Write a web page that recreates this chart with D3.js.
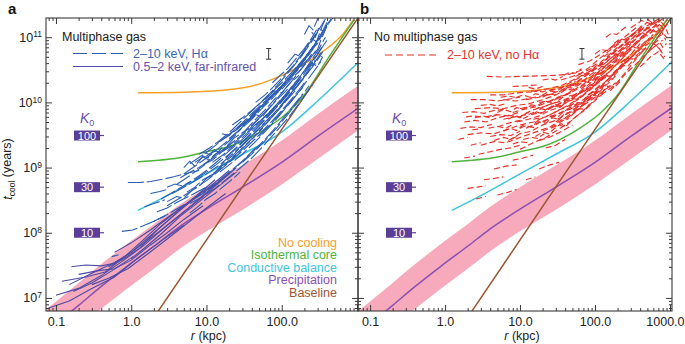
<!DOCTYPE html>
<html>
<head>
<meta charset="utf-8">
<script src="https://d3js.org/d3.v7.min.js"></script>
<style>
  html, body { margin: 0; padding: 0; background: #fff; }
  svg { display: block; font-family: "Liberation Sans", Arial, Helvetica, sans-serif; }
</style>
</head>
<body>
<svg id="chart" width="685" height="344"></svg>
<script>
// ---- 数据 (r: kpc, t: years) ----
const xTickLabelsA = [0.1, 1, 10, 100];
const xTickLabelsB = [0.1, 1, 10, 100, 1000];
const yTickLabels = [1e7, 1e8, 1e9, 1e10, 1e11];

const modelNames = ['No cooling', 'Isothermal core', 'Conductive balance', 'Precipitation', 'Baseline'];

const noCoolingR = [1.23, 5, 18, 46, 100, 174, 350, 665, 900];
const noCoolingT = [1.4e10, 1.43e10, 1.55e10, 1.86e10, 2.6e10, 3.55e10, 6e10, 1.15e11, 1.85e11];

const isoCoreR = [1.23, 5, 10, 20, 60, 120, 195, 400, 900];
const isoCoreT = [1.23e9, 1.45e9, 1.75e9, 2.1e9, 3.9e9, 7e9, 1.25e10, 4.5e10, 1.8e11];

const conductR = [1.23, 3, 10, 30, 100, 300, 1100];
const conductT = [2.2e8, 3.7e8, 8e8, 1.6e9, 3.5e9, 1.05e10, 4.4e10];

const baselineR = [2.0, 40, 1100];
const baselineT = [5e6, 8.2e8, 2.2e11];

const precipR = [0.06, 0.1, 0.2, 0.4, 0.86, 2, 4, 10, 31, 100, 300, 1100];
const precipT = [2.5e6, 4e6, 7.7e6, 1.5e7, 3e7, 6.2e7, 1.15e8, 2.3e8, 5.1e8, 1.2e9, 3e9, 8.5e9];
const precipUpper = [5.5e6, 8.8e6, 1.7e7, 3.3e7, 6.6e7, 1.35e8, 2.5e8, 5e8, 1.1e9, 2.6e9, 6.6e9, 1.9e10];
const precipLower = [1.1e6, 1.8e6, 3.5e6, 6.8e6, 1.36e7, 2.8e7, 5.2e7, 1.05e8, 2.3e8, 5.5e8, 1.35e9, 3.9e9];

const k0Labels = ['100', '30', '10'];
const k0Times = [3.1e9, 5e8, 1e8];

const errBarR = 67;
const errBarT = [4.6e10, 6.7e10];

// a: 2–10 keV, Hα (虚线)
const haProfiles = [
  [[2.5,3.3e8],[4,4.5e8],[6,6e8],[8,7.5e8],[10,9e8],[14,1.25e9],[20,1.8e9],[30,2.7e9],[45,4.2e9],[70,7e9],[100,1.1e10],[140,1.7e10]],
  [[3,2.6e8],[5,3.7e8],[7,4.8e8],[10,6.3e8],[14,8.5e8],[20,1.2e9],[30,1.8e9],[45,2.8e9],[70,4.8e9],[100,7.5e9],[150,1.3e10],[200,2e10]],
  [[4,5.5e8],[6,7.5e8],[9,1.05e9],[13,1.5e9],[18,2e9],[28,3e9],[40,4.5e9],[60,7e9],[90,1.15e10],[120,1.6e10]],
  [[5,8e8],[7,1.05e9],[10,1.4e9],[14,1.9e9],[20,2.7e9],[30,4.2e9],[45,7e9],[65,1.1e10],[100,1.8e10],[150,3e10],[220,5.5e10],[300,9e10]],
  [[6,1.15e9],[8.5,1.5e9],[12,2e9],[17,2.8e9],[25,4e9],[36,6e9],[52,9e9],[75,1.3e10]],
  [[8,1.6e9],[11,2e9],[15,2.6e9],[22,3.8e9],[32,5.8e9],[48,9e9],[70,1.35e10],[100,2e10],[140,3e10],[200,4.8e10],[270,7.5e10],[350,1.2e11]],
  [[4,2.2e8],[6,3e8],[9,4e8],[13,5.5e8],[19,7.8e8],[28,1.15e9],[40,1.7e9],[60,2.7e9],[90,4.6e9],[130,7.8e9],[190,1.35e10]],
  [[6,2.8e8],[9,3.6e8],[13,4.8e8],[19,6.8e8],[27,9.5e8],[40,1.4e9],[58,2.2e9],[85,3.6e9],[125,6e9],[180,1.05e10],[260,1.9e10]],
  [[3.5,4e8],[5,5e8],[7,6.2e8],[10,8e8],[15,1.1e9],[22,1.6e9],[32,2.4e9],[48,3.8e9],[70,6e9]],
  [[7,6.5e8],[10,8.5e8],[14,1.15e9],[20,1.6e9],[29,2.4e9],[42,3.6e9],[60,5.5e9],[90,9e9],[130,1.5e10],[180,2.4e10]],
  [[12,1.2e9],[17,1.6e9],[24,2.3e9],[35,3.4e9],[50,5e9],[72,7.5e9],[105,1.2e10],[150,2e10],[220,3.5e10],[300,5.5e10],[400,9e10]],
  [[15,8.5e8],[21,1.15e9],[30,1.6e9],[43,2.4e9],[62,3.7e9],[90,6e9],[130,1e10],[190,1.7e10]],
  [[20,2.8e9],[28,3.8e9],[40,5.5e9],[57,8.5e9],[80,1.25e10],[115,2e10],[165,3.3e10],[240,5.8e10],[330,1e11],[420,1.6e11]],
  [[25,3.8e9],[35,5.5e9],[50,8e9],[70,1.15e10],[100,1.8e10],[140,2.8e10],[200,4.5e10]],
  [[30,1.2e9],[42,1.7e9],[60,2.6e9],[85,4e9],[120,6.5e9],[170,1.1e10],[230,1.8e10]],
  [[40,6.5e9],[55,9e9],[75,1.25e10],[105,1.9e10],[150,3e10],[210,5e10],[280,8e10],[360,1.3e11],[450,1.9e11]],
  [[50,3e9],[70,4.5e9],[95,6.8e9],[130,1e10],[180,1.6e10],[250,2.7e10],[330,4.2e10]],
  [[80,1.3e10],[110,1.9e10],[150,2.8e10],[190,3.8e10],[240,5e10],[300,6.5e10],[330,9e10],[380,1.3e11]],
  [[100,1.6e10],[130,2.2e10],[170,3e10],[220,4.2e10],[280,6e10],[340,5e10]],
  [[150,3.3e10],[200,4.5e10],[250,6.5e10],[300,8e10],[340,1.15e11],[400,1.5e11],[480,2e11]],
  [[2,1.5e8],[3,1.9e8],[4.5,2.5e8],[6.5,3.2e8],[9.5,4.3e8],[14,6e8],[20,8.5e8],[30,1.25e9],[45,2e9]],
  [[0.9,5.9e8],[1.3,5.9e8],[1.8,6.1e8],[2.6,6.6e8],[3.8,7.3e8],[5.5,8.2e8],[8,9e8]],
  [[0.75,1.05e8],[1.05,1.1e8],[1.5,1.3e8],[2,1.5e8],[2.8,1.8e8]],
  [[0.55,4.3e7],[0.68,4.6e7]],
  [[5,1e9],[6,1.25e9],[7,1.05e9],[9,1.5e9],[11,1.4e9]],
  [[9,1.7e9],[11,1.6e9],[13,1.9e9]],
  [[10,1.5e9],[13,1.8e9],[16,1.7e9],[20,2.2e9],[26,2.8e9]],
  [[60,1.1e10],[80,1.5e10],[100,1.4e10],[130,2e10],[170,2.6e10]],
  [[200,3e10],[250,4e10],[300,3.6e10],[350,5e10]],
  [[35,5e9],[45,6.5e9],[55,6e9],[70,8.5e9]],
  [[1.5,2.5e8],[2,2.8e8],[2.8,3.2e8]],
  [[1.8,4e8],[2.4,4.3e8],[3,4.6e8]],
  [[3,3e8],[4,3.6e8],[5,3.4e8],[6.5,4.5e8],[8,5.2e8],[10,6.8e8],[13,8.5e8],[17,1.2e9],[22,1.5e9],[30,2.2e9],[40,3e9]],
  [[4.5,7e8],[6,8.5e8],[8,1e9],[10,1.2e9],[13,1.6e9],[17,1.9e9],[23,2.8e9],[32,3.6e9],[45,5.5e9],[62,8e9],[85,1.2e10]],
  [[5.5,4.2e8],[7,5e8],[9,6.5e8],[12,7.8e8],[16,1.05e9],[22,1.4e9],[30,2e9],[42,2.9e9],[58,4.4e9],[80,6.5e9],[110,1e10],[150,1.5e10]],
  [[9,1.1e9],[12,1.3e9],[16,1.75e9],[21,2.1e9],[28,2.9e9],[38,4e9],[52,6e9],[70,8.5e9],[95,1.3e10],[130,2e10],[180,3.2e10],[250,5.5e10]],
  [[11,7e8],[15,9.5e8],[20,1.25e9],[27,1.7e9],[36,2.4e9],[50,3.5e9],[68,5.3e9],[95,8.5e9],[130,1.35e10],[180,2.1e10],[250,3.5e10],[340,6e10]],
  [[14,2.4e9],[19,3e9],[25,3.8e9],[33,5e9],[45,6.8e9],[60,9.5e9],[80,1.35e10],[110,2e10],[150,3e10],[200,4.5e10],[260,6.5e10]],
  [[18,1.4e9],[24,1.9e9],[32,2.6e9],[43,3.6e9],[58,5.2e9],[78,7.5e9],[105,1.1e10],[140,1.6e10],[190,2.6e10],[260,4.2e10],[340,7e10]],
  [[22,4.5e9],[30,5.8e9],[40,7.5e9],[55,1.05e10],[75,1.5e10],[100,2.2e10],[135,3.3e10],[180,5e10],[240,8e10],[300,1.2e11]],
  [[28,2e9],[37,2.8e9],[50,3.9e9],[67,5.6e9],[90,8e9],[120,1.2e10],[160,1.8e10],[210,2.8e10],[280,4.5e10]],
  [[45,1e10],[60,1.3e10],[80,1.8e10],[105,2.5e10],[140,3.6e10],[185,5.5e10],[240,8.5e10],[310,1.3e11],[380,1.9e11]],
  [[60,6e9],[80,8.5e9],[105,1.2e10],[140,1.75e10],[185,2.7e10],[240,4.2e10],[310,6.5e10],[380,1e11]],
  [[120,4e10],[150,5.5e10],[180,5e10],[210,7e10],[250,9.5e10],[290,8.5e10],[330,1.3e11],[370,1.8e11]],
  [[200,1.1e11],[230,1.5e11],[260,1.3e11],[300,1.9e11],[330,2.1e11]],
  [[2.2,2.1e8],[3,2.4e8],[4,2.9e8],[5.5,3.5e8],[7.5,4.2e8],[10,5e8]],
  [[7,1.2e9],[9,1.45e9],[11,1.3e9],[14,1.7e9],[18,2.3e9],[24,3.1e9],[32,4.6e9],[42,6.5e9]],
  [[16,3.3e9],[20,3.1e9],[24,3.9e9],[30,4.5e9],[38,5.6e9],[48,7.5e9]],
  [[35,3.5e9],[45,4.6e9],[58,5.8e9],[75,7.3e9],[95,1e10],[120,1.4e10],[150,2e10]],
  [[75,2e10],[95,2.6e10],[120,3.3e10],[150,4.5e10],[190,6.2e10],[240,9e10],[290,1.3e11]],
  [[100,9e9],[130,1.3e10],[170,1.9e10],[220,2.8e10],[280,4e10],[350,6e10]],
  [[3,5e8],[3.8,5.6e8],[4.8,5.2e8],[6,6e8]],
  [[6,2e8],[8,2.6e8],[10,3.3e8],[13,4e8],[17,5.2e8],[22,6.6e8],[28,8.5e8]],
  [[250,1.2e11],[280,1e11],[310,1.4e11],[350,1.25e11],[400,1.7e11]]
];

// a: 0.5–2 keV, far-infrared (实线)
const firProfiles = [
  [[0.1,1.1e7],[0.2,1.4e7],[0.4,2.2e7],[0.8,3.8e7],[1.5,6.5e7],[3,1.3e8],[6,2.5e8],[12,5e8],[20,8e8]],
  [[0.15,1.6e7],[0.3,2.4e7],[0.6,3.5e7],[1,5e7],[2,9e7],[4,1.7e8],[8,3.2e8],[15,6e8],[25,1e9]],
  [[0.16,3e7],[0.25,3.2e7],[0.4,3.1e7],[0.6,3.4e7],[1,5e7],[2,1e8],[4,2e8],[7,3.4e8]],
  [[0.2,2.3e7],[0.35,2.6e7],[0.6,2.8e7],[1,3.8e7],[1.8,6.5e7],[3,1e8],[5,1.6e8],[9,2.6e8]],
  [[0.12,1.8e7],[0.25,2.1e7],[0.45,2.5e7],[0.8,4.2e7],[1.4,7.5e7],[2.5,1.4e8],[5,2.6e8],[9,4.4e8]],
  [[0.3,1.6e7],[0.5,2e7],[0.9,2.8e7],[1.6,4.6e7],[3,8e7],[6,1.5e8],[10,2.4e8],[18,4e8]],
  [[0.08,7e6],[0.15,9e6],[0.3,1.4e7],[0.6,2.1e7],[1.2,4e7],[2.5,7.5e7],[5,1.3e8]],
  [[0.6,5e7],[1,7e7],[1.8,1.1e8],[3,1.7e8],[6,3e8],[12,5.5e8],[20,9e8]],
  [[1,4e7],[1.6,6.2e7],[2.6,1e8],[4.5,1.8e8],[8,3e8],[14,5e8],[25,8.5e8]],
  [[0.5,3e7],[0.8,4e7],[1.3,5.8e7],[2.2,1.1e8],[4,2e8],[7,3.5e8],[13,6.5e8]],
  [[0.17,1.25e7],[0.3,1.7e7],[0.55,2.6e7],[1.06,4.3e7]]
];

// b: 2–10 keV, no Hα (红色虚线)
const noHaProfiles = [
  [[3.6,2.5e10],[6,2.45e10],[10,2.5e10],[18,2.55e10],[30,2.6e10],[46,2.7e10],[70,3.2e10]],
  [[2.2,1.1e10],[3.5,1.1e10],[5,1.05e10],[8,1.15e10],[10,1.2e10]],
  [[1.8,5e9],[2.5,5.3e9],[3.5,5e9],[5,5.8e9],[7,6.3e9],[10,6e9],[14,7.5e9],[20,8.5e9],[30,1e10],[45,1.4e10],[70,1.9e10],[100,2.6e10],[150,4e10]],
  [[2,3.2e9],[3,3.4e9],[4.5,3.3e9],[7,3.9e9],[10,4.5e9],[15,5e9],[22,6e9],[35,7.8e9],[50,1e10],[80,1.5e10],[120,2.2e10],[200,4e10],[300,6.5e10]],
  [[2.5,8e9],[4,8.3e9],[6,8e9],[9,9e9],[13,9.5e9],[20,1.1e10],[30,1.3e10],[45,1.7e10],[70,2.4e10],[110,3.5e10],[170,5.5e10],[260,8.5e10]],
  [[3,2.2e9],[4.5,2.5e9],[6.5,2.4e9],[10,2.9e9],[15,3.4e9],[25,4.2e9],[40,5.8e9],[60,8e9],[90,1.2e10],[140,2e10]],
  [[4,1.3e10],[6,1.3e10],[9,1.4e10],[14,1.45e10],[22,1.6e10],[35,1.8e10],[55,2.3e10],[85,3e10],[130,4.5e10],[200,7e10]],
  [[1.6,4e9],[2.2,4.2e9],[3,4.1e9],[4.2,4.6e9]],
  [[1.7,7e9],[2.4,7.2e9],[3.3,6.8e9],[4.5,7.5e9],[6,7.8e9]],
  [[5,4.2e9],[7,4.8e9],[10,5.3e9],[14,6.5e9],[20,7e9],[30,9e9],[45,1.15e10],[70,1.6e10],[110,2.5e10],[170,4e10],[260,6.5e10],[400,1.1e11],[600,1.6e11]],
  [[7,2.6e9],[10,3.3e9],[14,3.6e9],[20,4.5e9],[30,5.3e9],[45,7e9],[70,1e10],[110,1.6e10],[170,2.6e10],[260,4.5e10],[400,8e10]],
  [[8,7e9],[11,7.8e9],[16,8.5e9],[22,9.8e9],[32,1.15e10],[50,1.45e10],[75,1.9e10],[110,2.8e10],[170,4.5e10],[260,7.5e10],[400,1.25e11]],
  [[10,1.9e9],[15,2.4e9],[22,2.9e9],[32,3.8e9],[48,5.2e9],[70,7.5e9],[100,1.1e10],[150,1.8e10]],
  [[12,1.1e10],[18,1.2e10],[26,1.35e10],[38,1.6e10],[55,2e10],[80,2.7e10],[120,3.8e10],[180,6e10],[280,9.5e10],[420,1.5e11]],
  [[15,5.5e9],[22,6e9],[32,7.5e9],[46,9e9],[65,1.2e10],[95,1.7e10],[140,2.6e10],[210,4.2e10],[320,7e10],[500,1.2e11],[750,1.8e11]],
  [[20,3.6e9],[30,4.5e9],[45,6e9],[65,8.5e9],[95,1.3e10],[140,2.1e10],[200,3.2e10],[300,5.5e10]],
  [[25,1.5e10],[36,1.7e10],[50,2.1e10],[75,2.7e10],[110,3.6e10],[160,5.2e10],[240,8e10],[350,1.2e11],[500,1.7e11]],
  [[30,9e9],[45,1.1e10],[65,1.4e10],[95,2e10],[140,3e10],[200,4.6e10],[300,7e10],[450,1.1e11],[650,1.5e11]],
  [[40,6.5e9],[60,8e9],[85,1.1e10],[120,1.6e10],[180,2.6e10],[270,4.2e10],[400,7e10],[600,1.1e11]],
  [[50,1.8e10],[75,2.2e10],[110,2.9e10],[160,4.2e10],[240,6.5e10],[360,1e11],[540,1.5e11],[800,1.9e11]],
  [[60,3.8e10],[85,4.3e10],[120,5.5e10],[180,7.5e10],[260,1.05e11],[380,1.5e11]],
  [[80,1.3e10],[120,1.8e10],[170,2.6e10],[250,4e10],[370,6.2e10],[550,9.5e10],[800,1.3e11]],
  [[100,2.2e10],[150,3.2e10],[220,4.8e10],[330,7.5e10],[500,1.1e11],[700,1.35e11],[900,1e11]],
  [[150,6.5e10],[220,8.5e10],[320,1.1e11],[450,1.4e11],[600,1.7e11],[750,1.3e11],[880,9e10]],
  [[200,3.2e10],[300,4.8e10],[420,6.8e10],[560,8.5e10],[700,7e10],[850,5e10]],
  [[300,1.4e11],[420,1.8e11],[550,1.6e11],[700,1.9e11],[850,1.5e11],[950,1.1e11]],
  [[120,1.3e10],[180,1.8e10],[260,2.8e10],[380,4.2e10],[560,6.5e10],[800,9e10]],
  [[6,1.1e10],[9,1.05e10],[13,1.15e10],[19,1.25e10],[28,1.35e10]],
  [[3.5,6e9],[5,6.5e9],[7,6.2e9],[9.5,7e9]],
  [[2.8,1.6e9],[4,1.75e9],[5.5,1.9e9],[7.5,2e9],[10,2.2e9]],
  [[9,5e9],[13,5.5e9],[18,6.2e9],[25,7.5e9],[35,8.5e9]],
  [[18,2.6e9],[26,3e9],[36,3.6e9],[50,4.5e9]],
  [[35,2.2e10],[50,2.5e10],[70,2.9e10],[100,3.5e10]],
  [[45,1.25e10],[60,1.35e10],[80,1.6e10],[110,2e10],[150,2.6e10]],
  [[8,1.75e10],[12,1.8e10],[17,1.85e10]],
  [[2,4.8e8],[2.7,5e8],[3.5,5.3e8]],
  [[3.3,6.5e8],[4.5,6.8e8],[6,7.2e8]],
  [[2.6,3.3e8],[3.5,3.6e8]],
  [[5,3.8e8],[7,4.2e8],[9,4.6e8]],
  [[4.5,9.5e8],[6.5,1.05e9],[9,1.1e9]],
  [[8,1.3e9],[11,1.4e9],[15,1.55e9]],
  [[12,6.5e8],[16,7.2e8]],
  [[18,9.5e8],[25,1.1e9],[33,1.2e9]],
  [[2.2,2.2e9],[3,2.4e9]],
  [[1.5,2.7e9],[2,2.9e9]],
  [[1.8,1.4e9],[2.5,1.5e9]],
  [[22,2e9],[30,2.2e9],[40,2.7e9]],
  [[10,8e9],[14,8.8e9],[19,8.2e9],[26,9.5e9],[36,1.05e10],[50,1.25e10],[70,1.5e10]],
  [[12,4e9],[17,4.8e9],[24,5.5e9],[34,6.8e9],[48,8e9],[68,1e10],[95,1.35e10]],
  [[14,1.5e10],[20,1.45e10],[28,1.6e10],[40,1.75e10],[56,1.95e10]],
  [[25,6e9],[35,7e9],[48,8.5e9],[66,1.05e10],[90,1.4e10],[125,2e10]],
  [[4,3e9],[5.5,3.2e9],[7.5,3.1e9],[10,3.6e9]],
  [[6,5.5e9],[8.5,6e9],[12,6.5e9]],
  [[18,1e10],[25,1.05e10],[35,1.25e10],[48,1.4e10]],
  [[60,2.6e10],[80,3.3e10],[110,4.5e10],[150,6e10],[210,8e10]],
  [[90,2.5e10],[130,3.8e10],[190,5.5e10],[280,8.5e10],[420,1.3e11]],
  [[250,8e10],[350,1.2e11],[480,1.4e11],[650,1.2e11],[800,1.4e11]],
  [[400,3.5e10],[550,5e10],[700,6e10],[850,4.5e10]],
  [[70,9e9],[100,1.2e10],[140,1.6e10],[190,2e10]],
  [[5,7e9],[6,7.8e9],[7.5,7.2e9],[9,8.3e9],[11,7.8e9],[14,9.2e9],[17,8.8e9],[21,1.05e10],[26,1e10],[32,1.2e10],[40,1.3e10],[50,1.55e10]],
  [[6,3.6e9],[7.5,4e9],[9,3.7e9],[11,4.5e9],[14,4.2e9],[17,5.2e9],[21,5e9],[26,6.2e9],[32,6e9],[40,7.5e9],[50,8.2e9],[62,1e10]],
  [[7,5.5e9],[8.5,6.3e9],[10,5.8e9],[12.5,7e9],[15,6.6e9],[19,8e9],[23,7.6e9],[28,9.2e9],[35,9e9],[43,1.1e10],[53,1.2e10],[65,1.45e10],[80,1.7e10]],
  [[9,1.2e10],[11,1.3e10],[13.5,1.2e10],[16,1.35e10],[20,1.3e10],[25,1.5e10],[30,1.45e10],[37,1.7e10],[45,1.8e10],[55,2.1e10]],
  [[10,4e9],[12,4.4e9],[15,4.1e9],[18,5e9],[22,4.8e9],[27,5.8e9],[33,5.5e9],[40,6.8e9],[50,7.2e9],[62,9e9],[75,1.05e10]],
  [[13,6.5e9],[16,7.2e9],[19,6.8e9],[23,8e9],[28,8.8e9],[34,8.4e9],[41,1e10],[50,1.1e10],[60,1.35e10],[73,1.5e10],[90,1.85e10],[110,2.2e10]],
  [[16,3e9],[20,3.5e9],[24,3.3e9],[29,4e9],[35,4.7e9],[42,4.4e9],[50,5.5e9],[60,6.5e9],[72,7.5e9],[85,9.5e9]],
  [[20,1.2e10],[24,1.35e10],[29,1.3e10],[35,1.5e10],[42,1.7e10],[50,1.65e10],[60,1.95e10],[72,2.2e10],[85,2.6e10],[100,3e10]],
  [[24,8e9],[29,9e9],[35,8.6e9],[42,1e10],[50,1.15e10],[60,1.1e10],[72,1.35e10],[85,1.6e10],[100,1.85e10],[120,2.3e10],[145,2.8e10]],
  [[30,5e9],[36,5.8e9],[43,5.5e9],[52,6.8e9],[62,8e9],[75,7.8e9],[90,9.5e9],[108,1.15e10],[130,1.4e10]],
  [[35,1.4e10],[42,1.6e10],[50,1.55e10],[60,1.85e10],[72,2.1e10],[86,2e10],[103,2.5e10],[123,2.9e10],[148,3.5e10],[178,4.3e10]],
  [[45,8.5e9],[54,1e10],[65,9.8e9],[78,1.2e10],[93,1.45e10],[112,1.4e10],[134,1.75e10],[160,2.1e10],[190,2.6e10]],
  [[55,2.5e10],[66,2.8e10],[79,2.7e10],[95,3.2e10],[114,3.7e10],[137,3.5e10],[164,4.3e10],[197,5e10],[236,6e10]],
  [[65,1.6e10],[78,1.9e10],[94,1.8e10],[113,2.2e10],[135,2.6e10],[162,2.5e10],[195,3.1e10],[234,3.7e10],[280,4.5e10]],
  [[75,1.1e10],[90,1.3e10],[108,1.25e10],[130,1.5e10],[156,1.8e10],[187,1.75e10],[225,2.2e10]],
  [[90,3.5e10],[108,4e10],[130,3.8e10],[156,4.6e10],[187,5.4e10],[225,5.2e10],[270,6.3e10],[324,7.5e10],[390,9e10]],
  [[110,2.2e10],[132,2.6e10],[158,2.5e10],[190,3.1e10],[228,3.7e10],[274,3.6e10],[329,4.5e10],[395,5.5e10],[474,6.8e10]],
  [[130,5e10],[156,5.8e10],[187,5.5e10],[225,6.6e10],[270,7.8e10],[324,7.5e10],[389,9.2e10],[467,1.1e11],[560,1.3e11]],
  [[160,1.5e10],[190,1.9e10],[230,2.5e10],[275,3.2e10],[330,4.2e10],[400,5.5e10],[480,7e10]],
  [[180,8e10],[216,9.5e10],[259,9e10],[311,1.1e11],[373,1.3e11],[448,1.25e11],[537,1.5e11],[644,1.8e11]],
  [[220,4e10],[264,4.8e10],[317,4.6e10],[380,5.6e10],[456,6.7e10],[547,6.4e10],[656,7.5e10],[780,6e10]],
  [[260,6e10],[312,7e10],[374,6.8e10],[449,8.2e10],[539,9.8e10],[647,9.5e10],[776,1.1e11]],
  [[350,1e11],[420,1.2e11],[500,1.05e11],[600,1.3e11],[720,1.55e11],[860,1.4e11]],
  [[500,1.9e11],[600,1.6e11],[700,1.75e11],[820,1.3e11],[920,1.6e11]],
  [[600,8e10],[700,9e10],[800,7e10],[900,8e10]],
  [[2.5,5.8e9],[3.2,6.2e9],[4,5.8e9],[5,6.6e9]],
  [[3,9e9],[4,9.3e9],[5,8.8e9],[6.5,9.6e9]],
  [[3.8,4e9],[5,4.3e9],[6.5,4e9],[8,4.6e9]],
  [[4.5,2.6e9],[6,2.9e9],[7.5,2.7e9],[9.5,3.1e9]],
  [[1.9,6e9],[2.4,6.2e9],[3,6e9]],
  [[5.5,1.2e10],[7,1.25e10],[8.5,1.2e10]],
  [[2.3,3.8e9],[2.9,3.9e9]],
  [[11,2.7e9],[14,2.9e9],[17,2.8e9],[21,3.3e9]],
  [[26,4e9],[32,4.5e9],[38,4.3e9],[46,5e9]],
  [[38,2.6e10],[46,2.9e10],[55,2.8e10],[66,3.3e10]],
  [[140,1e11],[165,1.15e11],[195,1.1e11],[230,1.3e11],[270,1.5e11]],
  [[20,2.2e10],[25,2.3e10],[30,2.2e10],[37,2.5e10]],
  [[8,2.3e9],[10,2.5e9],[12.5,2.4e9]],
  [[13,1.7e10],[16,1.6e10],[20,1.75e10]],
  [[100,5.5e10],[120,6.5e10],[145,6.2e10],[175,7.5e10],[210,9e10]]
];

// ---- 画布 ----
const svg = d3.select('#chart');
const yTop = 18, yBot = 311;
const y = d3.scaleLog().domain([6.3e6, 1.97e11]).range([yBot, yTop]);

const colors = {
    orange: '#f5a127', green: '#4fb33c', cyan: '#3fc5da', purple: '#8c4fb2',
    brown: '#9b5530', band: '#f6aabb', blue: '#2b5db2', indigo: '#4d4aa6',
    red: '#e8312b', k0: '#5a3e98', axis: '#3a3a3a'
};

const pairs = (rs, ts) => rs.map((r, i) => [r, ts[i]]);

function drawPanel(p) {
    const x = d3.scaleLog().domain(p.domain).range([p.x0, p.x1]);
    const g = svg.append('g');

    g.append('clipPath').attr('id', 'clip-' + p.id)
        .append('rect')
        .attr('x', p.x0).attr('y', yTop)
        .attr('width', p.x1 - p.x0).attr('height', yBot - yTop);
    const plot = g.append('g').attr('clip-path', `url(#clip-${p.id})`);

    // 降水带
    const area = d3.area()
        .x(d => x(d))
        .y0((d, i) => y(precipLower[i]))
        .y1((d, i) => y(precipUpper[i]))
        .curve(d3.curveMonotoneX);
    plot.append('path').datum(precipR).attr('d', area).attr('fill', colors.band);

    const smooth = d3.line().x(d => x(d[0])).y(d => y(d[1])).curve(d3.curveMonotoneX);
    const jagged = d3.line().x(d => x(d[0])).y(d => y(d[1]));

    // 模型曲线
    [
        [precipR, precipT, colors.purple],
        [noCoolingR, noCoolingT, colors.orange],
        [isoCoreR, isoCoreT, colors.green],
        [conductR, conductT, colors.cyan],
        [baselineR, baselineT, colors.brown]
    ].forEach(([rs, ts, c]) => {
        plot.append('path').datum(pairs(rs, ts))
            .attr('d', smooth)
            .attr('fill', 'none')
            .attr('stroke', c)
            .attr('stroke-width', 1.5);
    });

    // 观测剖面
    p.series.forEach(s => {
        plot.selectAll(null)
            .data(s.profiles)
            .join('path')
            .attr('d', jagged)
            .attr('fill', 'none')
            .attr('stroke', s.color)
            .attr('stroke-width', s.width)
            .attr('stroke-dasharray', s.dash);
    });

    // 坐标轴
    const isMajor = d => Math.abs(Math.log10(d) - Math.round(Math.log10(d))) < 1e-6;
    const xAll = x.ticks();
    const yAll = y.ticks();
    const xMinor = xAll.filter(d => !isMajor(d)), xMajor = xAll.filter(isMajor);
    const yMinor = yAll.filter(d => !isMajor(d)), yMajor = yAll.filter(isMajor);

    const styleAxis = sel => {
        sel.select('.domain').remove();
        sel.selectAll('.tick line').attr('stroke', colors.axis).attr('stroke-width', 1);
    };

    // 底部
    g.append('g').attr('transform', `translate(0,${yBot})`)
        .call(d3.axisBottom(x).tickValues(xMinor).tickSize(-3).tickFormat(''))
        .call(styleAxis);
    g.append('g').attr('transform', `translate(0,${yBot})`)
        .call(d3.axisBottom(x).tickValues(xMajor).tickSize(-6).tickPadding(6)
            .tickFormat(d => p.xLabels.some(v => Math.abs(v - d) < 1e-9) ? d3.format('.1f')(d) : ''))
        .call(styleAxis)
        .call(a => a.selectAll('text').attr('font-size', '12.5px').attr('fill', '#222')
            .attr('font-family', '"Liberation Sans", Arial, sans-serif'))
        .call(a => a.selectAll('.tick text').filter(d => x(d) + 18 > 685)
            .attr('text-anchor', 'end').attr('x', d => 684 - x(d)));
    // 顶部
    g.append('g').attr('transform', `translate(0,${yTop})`)
        .call(d3.axisTop(x).tickValues(xMinor).tickSize(-3).tickFormat(''))
        .call(styleAxis);
    g.append('g').attr('transform', `translate(0,${yTop})`)
        .call(d3.axisTop(x).tickValues(xMajor).tickSize(-6).tickFormat(''))
        .call(styleAxis);
    // 左侧
    g.append('g').attr('transform', `translate(${p.x0},0)`)
        .call(d3.axisLeft(y).tickValues(yMinor).tickSize(-3).tickFormat(''))
        .call(styleAxis);
    const left = g.append('g').attr('transform', `translate(${p.x0},0)`)
        .call(d3.axisLeft(y).tickValues(yMajor).tickSize(-6).tickPadding(4)
            .tickFormat(p.yLabels ? d => d : ''))
        .call(styleAxis);
    if (p.yLabels) {
        left.selectAll('.tick text').each(function(d) {
            const t = d3.select(this).text('')
                .attr('font-size', '12.5px').attr('fill', '#222')
                .attr('font-family', '"Liberation Sans", Arial, sans-serif');
            t.append('tspan').text('10');
            t.append('tspan').attr('dy', '-0.5em').attr('font-size', '8.5px')
                .text(Math.round(Math.log10(d)));
        });
    }
    // 右侧
    g.append('g').attr('transform', `translate(${p.x1},0)`)
        .call(d3.axisRight(y).tickValues(yMinor).tickSize(-3).tickFormat(''))
        .call(styleAxis);
    g.append('g').attr('transform', `translate(${p.x1},0)`)
        .call(d3.axisRight(y).tickValues(yMajor).tickSize(-6).tickFormat(''))
        .call(styleAxis);

    g.append('rect')
        .attr('x', p.x0).attr('y', yTop)
        .attr('width', p.x1 - p.x0).attr('height', yBot - yTop)
        .attr('fill', 'none').attr('stroke', colors.axis).attr('stroke-width', 1.1);

    // x 轴标题
    const xt = g.append('text')
        .attr('x', x(10) + 2).attr('y', 340)
        .attr('text-anchor', 'middle').attr('font-size', '12.5px').attr('fill', '#222');
    xt.append('tspan').attr('font-style', 'italic').text('r');
    xt.append('tspan').text(' (kpc)');

    // 面板字母
    g.append('text')
        .attr('x', p.x0 + p.letterDx).attr('y', 13.5)
        .attr('font-size', '15px').attr('font-weight', 'bold').attr('fill', '#111')
        .text(p.id);

    // 图例
    g.append('text')
        .attr('x', p.x0 + 16).attr('y', 41)
        .attr('font-size', '12.5px').attr('fill', '#1a1a1a')
        .text(p.title);
    p.series.forEach((s, i) => {
        const ly = p.legendY[i];
        g.append('line')
            .attr('x1', p.x0 + 27).attr('x2', p.x0 + p.legendLen)
            .attr('y1', ly).attr('y2', ly)
            .attr('stroke', s.color).attr('stroke-width', 1.2)
            .attr('stroke-dasharray', s.legendDash);
        g.append('text')
            .attr('x', p.x0 + p.legendLen + 10).attr('y', ly + 4.3)
            .attr('font-size', '12.5px').attr('fill', s.textColor)
            .text(s.label);
    });

    // 误差棒
    const ex = x(errBarR);
    g.append('path')
        .attr('d', `M${ex - 2.5},${y(errBarT[1])}H${ex + 2.5}M${ex},${y(errBarT[1])}V${y(errBarT[0])}M${ex - 2.5},${y(errBarT[0])}H${ex + 2.5}`)
        .attr('stroke', '#333').attr('stroke-width', 1).attr('fill', 'none');

    // K0 标记
    const k = g.append('text')
        .attr('x', p.x0 + 34).attr('y', 123)
        .attr('font-size', '14px').attr('font-style', 'italic').attr('fill', '#6a4fae');
    k.append('tspan').text('K');
    k.append('tspan').attr('dy', '0.3em').attr('font-size', '9px').attr('font-style', 'normal').text('0');

    k0Labels.forEach((lab, i) => {
        const cy = y(k0Times[i]);
        g.append('rect')
            .attr('x', p.x0 + 28).attr('y', cy - 5)
            .attr('width', 26).attr('height', 10)
            .attr('fill', colors.k0);
        g.append('line')
            .attr('x1', p.x0 + 54).attr('x2', p.x0 + 58)
            .attr('y1', cy).attr('y2', cy)
            .attr('stroke', colors.k0).attr('stroke-width', 1.2);
        g.append('text')
            .attr('x', p.x0 + 41).attr('y', cy + 4)
            .attr('text-anchor', 'middle')
            .attr('font-size', '11px').attr('fill', '#fff')
            .text(lab);
    });

    return x;
}

drawPanel({
    id: 'a', x0: 46, x1: 358, domain: [0.0737, 1031],
    xLabels: xTickLabelsA, yLabels: yTickLabels, letterDx: -38,
    title: 'Multiphase gas', legendY: [53.5, 66.5], legendLen: 77,
    series: [
        { profiles: haProfiles, color: colors.blue, width: 1.1, dash: '16,3', legendDash: '14,5', label: '2–10 keV, Hα', textColor: '#3a68b6' },
        { profiles: firProfiles, color: colors.indigo, width: 1.1, dash: null, legendDash: null, label: '0.5–2 keV, far-infrared', textColor: '#6652a8' }
    ]
});

drawPanel({
    id: 'b', x0: 358, x1: 672, domain: [0.069, 1064],
    xLabels: xTickLabelsB, yLabels: null, letterDx: 2,
    title: 'No multiphase gas', legendY: [55], legendLen: 79,
    series: [
        { profiles: noHaProfiles, color: colors.red, width: 1.15, dash: '6,3', legendDash: '7,4', label: '2–10 keV, no Hα', textColor: '#e2352c' }
    ]
});

// 模型名称
const modelColorList = [colors.orange, colors.green, colors.cyan, colors.purple, colors.brown];
svg.append('g').selectAll('text')
    .data(modelNames)
    .join('text')
    .attr('x', 337)
    .attr('y', (d, i) => 246.5 + i * 12.6)
    .attr('text-anchor', 'end')
    .attr('font-size', '12.5px')
    .attr('fill', (d, i) => modelColorList[i])
    .text(d => d);

// y 轴标题
const yt = svg.append('text')
    .attr('transform', 'translate(12,169) rotate(-90)')
    .attr('text-anchor', 'middle')
    .attr('font-size', '12.5px').attr('fill', '#222');
yt.append('tspan').attr('font-style', 'italic').text('t');
yt.append('tspan').attr('dy', '0.3em').attr('font-size', '8.5px').text('cool');
yt.append('tspan').attr('dy', '-0.3em').text(' (years)');
</script>
</body>
</html>
